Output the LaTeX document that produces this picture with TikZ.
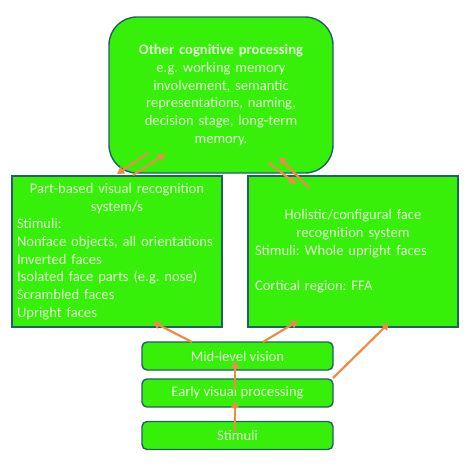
\documentclass[tikz,border=0pt]{standalone}
\usepackage{fontspec}
\setmainfont{Carlito}
\usetikzlibrary{arrows.meta}
\definecolor{boxfill}{RGB}{55,240,10}
\definecolor{boxline}{RGB}{35,95,105}
\definecolor{boxtext}{RGB}{228,250,215}
\definecolor{arr}{RGB}{236,140,70}
\tikzset{
  box/.style={draw=boxline, line width=1.4pt, fill=boxfill, text=boxtext, inner sep=0pt,
    font=\fontsize{14.6}{17.7}\selectfont\frenchspacing},
  bigbox/.style={box, minimum width=210pt, minimum height=151pt, text width=200pt, align=left},
  smallbox/.style={box, rounded corners=5pt, minimum width=191pt, minimum height=28pt},
  arrow/.style={draw=arr, line width=2.2pt, -{Triangle[length=7pt,width=8pt]}}
}
\begin{document}
\begin{tikzpicture}[x=1pt,y=-1pt]
\useasboundingbox[fill=white] (0,0) rectangle (474,474);
\node[box, rounded corners=28pt, minimum width=224pt, minimum height=156pt, text width=210pt, align=center] (top) at (221,95)
  {\textbf{Other cognitive processing}\\ e.g. working memory\\ involvement, semantic\\ representations, naming,\\ decision stage, long-term\\ memory.};
\node[bigbox] (left) at (117,251.5)
  {\centering Part-based visual recognition\\ system/s\par\raggedright Stimuli:\\ Nonface objects, all orientations\\ Inverted faces\\ Isolated face parts (e.g. nose)\\ Scrambled faces\\ Upright faces\par};
\node[bigbox, text width=196pt] (right) at (353,251.5)
  {\centering Holistic/configural face\\ recognition system\par\raggedright Stimuli: Whole upright faces\\[17.7pt] Cortical region: FFA\par};
\node[smallbox] (mid) at (237.5,356) {Mid-level vision};
\node[smallbox] (early) at (237.5,393) {Early visual processing};
\node[smallbox] (stim) at (237.5,435.5) {Stimuli};
% arrow endpoints
\coordinate (a1s) at (148,153); \coordinate (a1e) at (117,174);
\coordinate (a2s) at (133,175); \coordinate (a2e) at (165,154);
\coordinate (a3s) at (268,162); \coordinate (a3e) at (296,184);
\coordinate (a4s) at (309,188); \coordinate (a4e) at (279,157);
\coordinate (b1s) at (192,342); \coordinate (b1e) at (153,322);
\coordinate (b2s) at (263,342); \coordinate (b2e) at (298,321);
\coordinate (b3s) at (333,378); \coordinate (b3e) at (389,323);
\coordinate (b4s) at (235,390); \coordinate (b4e) at (235,361);
\coordinate (b5s) at (235,432); \coordinate (b5e) at (235,401);
\draw[arrow] (a1s) -- (a1e);
\draw[arrow] (a2s) -- (a2e);
\draw[arrow] (a3s) -- (a3e);
\draw[arrow] (a4s) -- (a4e);
\draw[arrow] (b1s) -- (b1e);
\draw[arrow] (b2s) -- (b2e);
\draw[arrow] (b3s) -- (b3e);
\draw[arrow] (b4s) -- (b4e);
\draw[arrow] (b5s) -- (b5e);
\end{tikzpicture}
\end{document}
